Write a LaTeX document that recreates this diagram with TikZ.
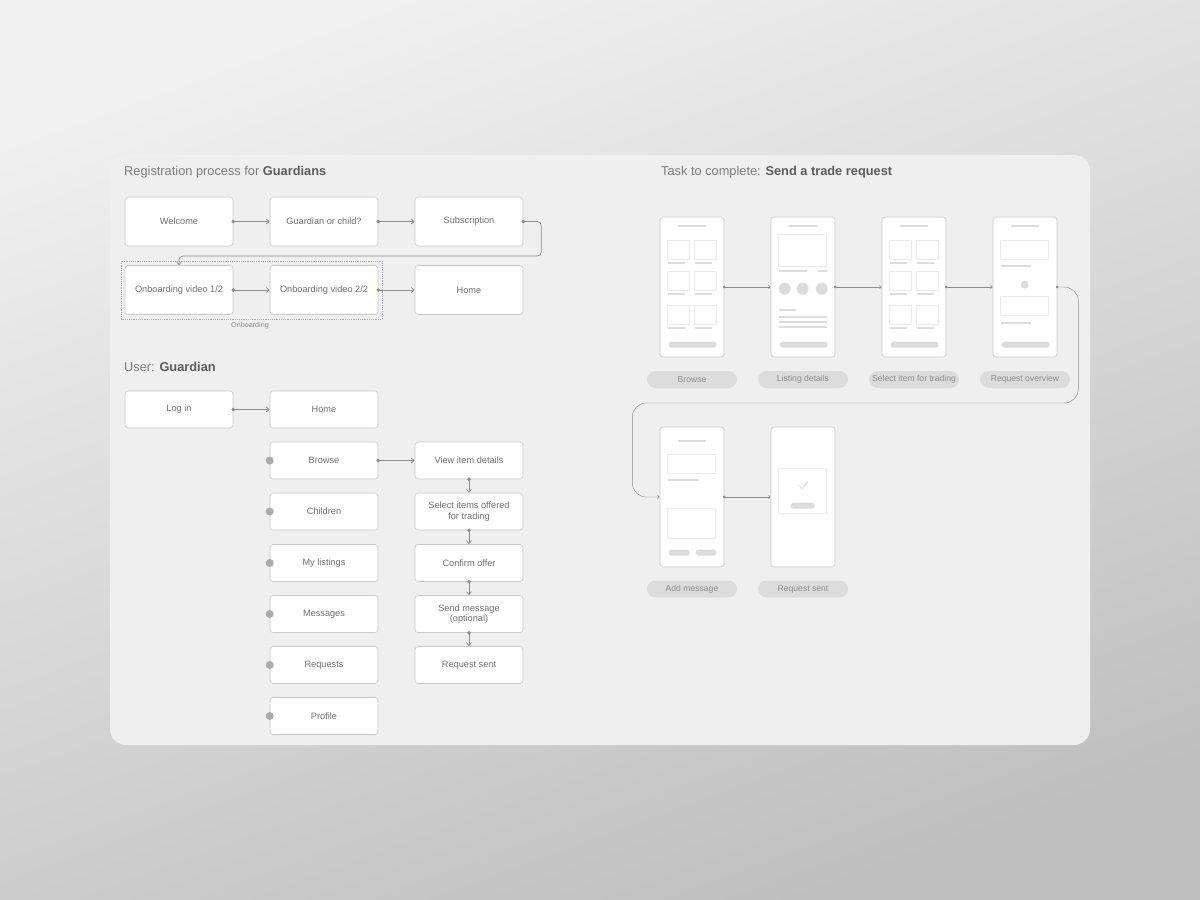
\documentclass[tikz,border=0pt]{standalone}
\usepackage{fontspec}
\setmainfont{Liberation Sans}
\usetikzlibrary{arrows.meta}

\definecolor{boxline}{HTML}{C8C8C8}
\definecolor{txt}{HTML}{6E6E6E}
\definecolor{head}{HTML}{7C7C7C}
\definecolor{headbold}{HTML}{5C5C5C}
\definecolor{wire}{HTML}{8C8C8C}
\definecolor{pillgray}{HTML}{DCDCDC}
\definecolor{sketch}{HTML}{DCDCDC}
\definecolor{frameline}{HTML}{EAEAEA}
\definecolor{navdot}{HTML}{ABABAB}
\definecolor{grouped}{HTML}{A8A8E2}
\definecolor{panel}{HTML}{EFEFEF}

\tikzset{
    screen/.style={draw=boxline,fill=white,rounded corners=3pt,line width=0.6pt,
        minimum width=108pt,minimum height=49pt,inner sep=0pt,align=center,
        text=txt,font=\fontsize{9.2}{10.5}\selectfont},
    shortbox/.style={screen,minimum height=37pt},
    link/.style={draw=wire,line width=0.7pt,shorten <=-1.8pt,
        {Circle[length=3.6pt]}-{Straight Barb[length=3pt,width=5pt]}},
    thinlink/.style={draw=wire,line width=0.45pt,shorten <=-1.3pt,
        {Circle[length=2.6pt]}-{Straight Barb[length=2pt,width=3.5pt]}},
    phone/.style={draw=boxline,fill=white,rounded corners=3pt,line width=0.6pt,
        minimum width=64pt,minimum height=140pt,inner sep=0pt},
    tag/.style={fill=pillgray,rounded corners=8.5pt,minimum width=90pt,
        minimum height=17pt,inner sep=0pt,text=wire,font=\fontsize{8.6}{10}\selectfont},
    heading/.style={anchor=west,inner sep=0pt,text=head,font=\fontsize{12.8}{15}\selectfont},
    bar/.style={draw=sketch,line width=2pt},
    frame/.style={draw=frameline,fill=white,line width=0.5pt},
    blob/.style={fill=sketch,rounded corners=3pt}
}

\begin{document}
\begin{tikzpicture}[x=1pt,y=-1pt]
    \useasboundingbox (0,0) rectangle (1200,900);
    \shade[top color=black!6,bottom color=black!25,shading angle=20] (0,0) rectangle (1200,900);
    \fill[panel,rounded corners=16pt] (110,155) rectangle (1090,745);

    % registration
    \node[heading] (regtitle) at (124,172) {Registration process for {\color{headbold}\bfseries Guardians}};
    \node[screen] (welcome) at (179,221.5) {Welcome};
    \node[screen] (guardq) at (324,221.5) {Guardian or child?};
    \node[screen] (subs) at (469,221.5) {Subscription};
    \node[screen] (obone) at (179,290) {Onboarding video 1/2};
    \node[screen] (obtwo) at (324,290) {Onboarding video 2/2};
    \node[screen] (reghome) at (469,290) {Home};
    \draw[grouped,line width=0.6pt,dash pattern=on 1.2pt off 1pt] (121,261) rectangle (382,319);
    \node[text=wire,font=\fontsize{7.2}{8}\selectfont] (oblabel) at (250,326) {Onboarding};

    \draw[link] (welcome) -- (guardq);
    \draw[link] (guardq) -- (subs);
    \draw[link,rounded corners=4pt] (subs.east) -- ++(18,0) |- ++(-100,34.5) -| (obone.north);
    \draw[link] (obone) -- (obtwo);
    \draw[link] (obtwo) -- (reghome);

    % user guardian
    \node[heading] (usertitle) at (124,367) {User: {\color{headbold}\bfseries Guardian}};
    \node[shortbox] (login) at (179,409.5) {Log in};
    \node[shortbox] (home) at (324,409.5) {Home};
    \node[shortbox] (browse) at (324,460.5) {Browse};
    \node[shortbox] (children) at (324,511.5) {Children};
    \node[shortbox] (listings) at (324,563) {My listings};
    \node[shortbox] (messages) at (324,614) {Messages};
    \node[shortbox] (requests) at (324,665) {Requests};
    \node[shortbox] (profile) at (324,716) {Profile};
    \node[shortbox] (viewitem) at (469,460.5) {View item details};
    \node[shortbox] (selitems) at (469,511.5) {Select items offered\\for trading};
    \node[shortbox] (confirm) at (469,563) {Confirm offer};
    \node[shortbox] (sendmsg) at (469,614) {Send message\\(optional)};
    \node[shortbox] (reqsent) at (469,665) {Request sent};

    \foreach \n in {browse,children,listings,messages,requests,profile}
        \fill[navdot] (\n.west) circle (4pt);

    \draw[link] (login) -- (home);
    \draw[link] (browse) -- (viewitem);
    \draw[link] (viewitem) -- (selitems);
    \draw[link] (selitems) -- (confirm);
    \draw[link] (confirm) -- (sendmsg);
    \draw[link] (sendmsg) -- (reqsent);

    % trade request
    \node[heading] (tasktitle) at (661,172) {Task to complete: {\color{headbold}\bfseries Send a trade request}};
    \node[phone] (pbrowse) at (692,287) {};
    \node[phone] (plisting) at (803,287) {};
    \node[phone] (pselect) at (914,287) {};
    \node[phone] (poverview) at (1025,287) {};
    \node[phone] (pmessage) at (692,497) {};
    \node[phone] (psent) at (803,497) {};

    \node[tag] (tbrowse) at (692,379.5) {Browse};
    \node[tag] (tlisting) at (803,379.5) {Listing details};
    \node[tag] (tselect) at (914,379.5) {Select item for trading};
    \node[tag] (toverview) at (1025,379.5) {Request overview};
    \node[tag] (tmessage) at (692,589) {Add message};
    \node[tag] (tsent) at (803,589) {Request sent};

    \draw[thinlink] (pbrowse) -- (plisting);
    \draw[thinlink] (plisting) -- (pselect);
    \draw[thinlink] (pselect) -- (poverview);
    \draw[thinlink,rounded corners=14pt] (poverview.east) -- ++(21,0) |- ++(-446,116) |- (pmessage.west);
    \draw[thinlink] (pmessage) -- (psent);

    % screen sketches
    \foreach \p in {pbrowse,pselect}{
        \begin{scope}[shift={(\p.north west)}]
            \draw[bar] (18,9) -- (46,9);
            \foreach \c in {8,35}
                \foreach \r in {24,55,89}{
                    \draw[frame] (\c,\r) rectangle ++(22,19);
                    \draw[bar] (\c,\r+22) -- ++(17,0);
                }
            \fill[blob] (9,125) rectangle (57,131);
        \end{scope}
    }
    \begin{scope}[shift={(plisting.north west)}]
        \draw[bar] (18,9) -- (46,9);
        \draw[frame] (8,18) rectangle (56,50);
        \draw[bar] (8,54) -- (36,54);
        \draw[bar] (47,54) -- (56,54);
        \foreach \c in {14,32,51}
            \fill[sketch] (\c,72) circle (6pt);
        \draw[bar] (8,93) -- (25,93);
        \foreach \r in {100,105,110}
            \draw[bar] (8,\r) -- (56,\r);
        \fill[blob] (9,125) rectangle (57,131);
    \end{scope}
    \begin{scope}[shift={(poverview.north west)}]
        \draw[bar] (18,9) -- (46,9);
        \draw[frame] (8,24) rectangle (56,43);
        \draw[bar] (8,49) -- (38,49);
        \fill[sketch] (32,68) circle (4pt);
        \draw[frame] (8,80) rectangle (56,99);
        \draw[bar] (8,106) -- (38,106);
        \fill[blob] (9,125) rectangle (57,131);
    \end{scope}
    \begin{scope}[shift={(pmessage.north west)}]
        \draw[bar] (18,14) -- (46,14);
        \draw[frame] (8,28) rectangle (56,47);
        \draw[bar] (8,53) -- (39,53);
        \draw[frame] (8,82) rectangle (56,112);
        \fill[blob] (9,123) rectangle (30,129);
        \fill[blob] (36,123) rectangle (57,129);
    \end{scope}
    \begin{scope}[shift={(psent.north west)}]
        \draw[frame] (8,42) rectangle (56,87);
        \draw[sketch,line width=1pt] (28,59) -- (31,62) -- (37,55);
        \fill[blob] (20,76) rectangle (44,82);
    \end{scope}
\end{tikzpicture}
\end{document}
